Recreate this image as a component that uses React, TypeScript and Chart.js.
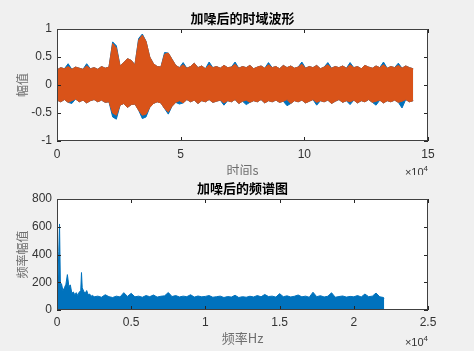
import React, { useEffect, useRef } from "react";
import { Chart, registerables } from "chart.js";
Chart.register(...registerables);

const BLUE = "#0072BD";
const ORANGE = "#D95319";

const timeTitle = "加噪后的时域波形";
const timeXLabel = "时间s";
const timeYLabel = "幅值";
const freqTitle = "加噪后的频谱图";
const freqXLabel = "频率Hz";
const freqYLabel = "频率幅值";

// time-domain envelopes (sample index)
const timeX = [
  0, 1500, 3000, 4500, 6000, 7500, 9000, 10500, 12000, 13500, 15000, 16500, 18000, 19500, 21000, 22500,
  24000, 25500, 27000, 28500, 30000, 31500, 33000, 34500, 36000, 37500, 39000, 40500, 42000, 43500, 45000,
  46500, 48000, 49500, 51000, 52500, 54000, 55500, 57000, 58500, 60000, 61500, 63000, 64500, 66000, 67500,
  69000, 70500, 72000, 73500, 75000, 76500, 78000, 79500, 81000, 82500, 84000, 85500, 87000, 88500, 90000,
  91500, 93000, 94500, 96000, 97500, 99000, 100500, 102000, 103500, 105000, 106500, 108000, 109500, 111000,
  112500, 114000, 115500, 117000, 118500, 120000, 121500, 123000, 124500, 126000, 127500, 129000, 130500,
  132000, 133500, 135000, 136500, 138000, 139500, 141000, 142500, 144000,
];
const orangeUpper = [
  0.27, 0.31, 0.29, 0.33, 0.28, 0.32, 0.3, 0.28, 0.34, 0.29, 0.31, 0.28, 0.33, 0.3, 0.32, 0.74,
  0.66, 0.34, 0.4, 0.47, 0.44, 0.36, 0.8, 0.89, 0.78, 0.5, 0.38, 0.33, 0.32, 0.55, 0.57,
  0.46, 0.35, 0.31, 0.36, 0.3, 0.33, 0.39, 0.31, 0.34, 0.29, 0.36, 0.31, 0.33, 0.3, 0.35,
  0.31, 0.32, 0.37, 0.3, 0.33, 0.31, 0.35, 0.29, 0.32, 0.34, 0.3, 0.36, 0.31, 0.33, 0.29,
  0.35, 0.31, 0.34, 0.3, 0.32, 0.37, 0.3, 0.33, 0.31, 0.35, 0.29, 0.32, 0.36, 0.3,
  0.33, 0.31, 0.34, 0.3, 0.36, 0.31, 0.33, 0.29, 0.35, 0.32, 0.3, 0.34, 0.31,
  0.36, 0.3, 0.33, 0.31, 0.35, 0.3, 0.34, 0.31, 0.29,
];
const orangeLower = [
  -0.27, -0.3, -0.26, -0.31, -0.28, -0.25, -0.3, -0.27, -0.32, -0.28, -0.26, -0.3, -0.27, -0.31, -0.3, -0.5,
  -0.54, -0.36, -0.33, -0.4, -0.35, -0.34, -0.45, -0.54, -0.52, -0.4, -0.33, -0.3, -0.32, -0.42, -0.48,
  -0.38, -0.31, -0.28, -0.32, -0.26, -0.3, -0.27, -0.33, -0.28, -0.3, -0.26, -0.31, -0.29, -0.27, -0.32,
  -0.28, -0.3, -0.26, -0.33, -0.29, -0.27, -0.31, -0.28, -0.3, -0.26, -0.32, -0.28, -0.3, -0.27, -0.31,
  -0.29, -0.26, -0.33, -0.28, -0.3, -0.27, -0.32, -0.29, -0.26, -0.31, -0.28, -0.3, -0.27, -0.33,
  -0.29, -0.26, -0.31, -0.28, -0.3, -0.27, -0.32, -0.28, -0.3, -0.26, -0.31, -0.29, -0.27,
  -0.32, -0.28, -0.3, -0.27, -0.31, -0.29, -0.26, -0.3, -0.28,
];
const blueUpper = [
  0.27, 0.31, 0.29, 0.38, 0.28, 0.32, 0.3, 0.28, 0.38, 0.29, 0.31, 0.28, 0.33, 0.3, 0.32, 0.77,
  0.7, 0.34, 0.4, 0.47, 0.44, 0.36, 0.83, 0.91, 0.78, 0.5, 0.38, 0.33, 0.32, 0.58, 0.57,
  0.46, 0.35, 0.31, 0.4, 0.3, 0.33, 0.39, 0.31, 0.34, 0.29, 0.41, 0.31, 0.33, 0.3, 0.35,
  0.31, 0.32, 0.41, 0.3, 0.33, 0.31, 0.35, 0.29, 0.32, 0.34, 0.3, 0.4, 0.31, 0.33, 0.29,
  0.35, 0.31, 0.34, 0.3, 0.32, 0.41, 0.3, 0.33, 0.31, 0.35, 0.29, 0.32, 0.4, 0.3,
  0.33, 0.31, 0.34, 0.3, 0.4, 0.31, 0.33, 0.29, 0.35, 0.32, 0.3, 0.34, 0.31,
  0.41, 0.3, 0.33, 0.31, 0.39, 0.3, 0.34, 0.31, 0.29,
];
const blueLower = [
  -0.27, -0.3, -0.26, -0.31, -0.33, -0.25, -0.3, -0.27, -0.32, -0.28, -0.26, -0.3, -0.27, -0.31, -0.3, -0.57,
  -0.61, -0.36, -0.33, -0.4, -0.35, -0.34, -0.45, -0.6, -0.57, -0.4, -0.33, -0.3, -0.32, -0.42, -0.52,
  -0.38, -0.31, -0.34, -0.32, -0.26, -0.3, -0.27, -0.33, -0.28, -0.3, -0.26, -0.31, -0.29, -0.27, -0.36,
  -0.28, -0.3, -0.26, -0.33, -0.29, -0.35, -0.31, -0.28, -0.3, -0.26, -0.32, -0.28, -0.3, -0.27, -0.31,
  -0.29, -0.37, -0.33, -0.28, -0.3, -0.27, -0.32, -0.29, -0.26, -0.36, -0.28, -0.3, -0.27, -0.33,
  -0.29, -0.26, -0.31, -0.28, -0.35, -0.27, -0.32, -0.28, -0.3, -0.26, -0.31, -0.36, -0.27,
  -0.32, -0.28, -0.3, -0.27, -0.31, -0.41, -0.26, -0.3, -0.28,
];

// spectrum (Hz)
const freqX = [
  0, 60, 120, 170, 230, 300, 400, 500, 600, 700, 800, 900, 1000, 1100, 1200, 1300, 1400, 1500, 1600,
  1650, 1700, 1800, 1900, 2000, 2100, 2200, 2300, 2400,
  2500, 2750, 3000, 3250, 3500, 3750, 4000, 4250, 4500, 4750, 5000, 5250, 5500, 5750, 6000, 6250,
  6500, 6750, 7000, 7250, 7500, 7750, 8000, 8250, 8500, 8750, 9000, 9250, 9500, 9750, 10000, 10250,
  10500, 10750, 11000, 11250, 11500, 11750, 12000, 12250, 12500, 12750, 13000, 13250, 13500, 13750,
  14000, 14250, 14500, 14750, 15000, 15250, 15500, 15750, 16000, 16250, 16500, 16750, 17000, 17250,
  17500, 17750, 18000, 18250, 18500, 18750, 19000, 19250, 19500, 19750, 20000, 20250, 20500, 20750,
  21000, 21250, 21500, 21750, 22000, 22050,
];
const freqAmp = [
  130, 210, 420, 620, 170, 190, 140, 160, 185, 255, 170, 180, 120, 130, 110, 125, 105, 130, 140,
  270, 160, 135, 120, 140, 110, 115, 100, 105,
  95, 100, 92, 110, 96, 90, 100, 94, 125, 98, 120, 95, 100, 92, 104, 96,
  108, 93, 99, 102, 126, 97, 104, 94, 100, 96, 110, 93, 101, 95, 98, 104,
  92, 96, 100, 90, 97, 93, 106, 90, 96, 92, 99, 94, 104, 95,
  112, 97, 100, 93, 118, 96, 102, 94, 99, 108, 95, 100, 92, 128,
  96, 103, 94, 99, 124, 92, 97, 101, 93, 98, 95, 104, 94, 115,
  96, 100, 122, 95, 90, 85,
];

const timeTicks = { min: 0, max: 150000, step: 50000 };
const ampTicks = { min: -1, max: 1, step: 0.5 };
const freqTicks = { min: 0, max: 25000, step: 5000 };
const specTicks = { min: 0, max: 800, step: 200 };

const toXY = (xs: number[], ys: number[]) => xs.map((x, i) => ({ x, y: ys[i] }));

const TICK_FONT = { family: "'Liberation Sans', Arial, sans-serif", size: 12 };
const TICK_COLOR = "#333333";

type Deco = {
  title: string;
  titleY: number;
  xLabel: string;
  xLabelY: number;
  yLabel: string;
  yLabelX: number;
  expBaseline: number;
};

function makeDecor(d: Deco) {
  return {
    id: "decor",
    beforeDraw(chart: any) {
      const { ctx, chartArea: a } = chart;
      ctx.save();
      ctx.fillStyle = "#ffffff";
      ctx.fillRect(a.left, a.top, a.right - a.left, a.bottom - a.top);
      ctx.restore();
    },
    afterDatasetsDraw(chart: any) {
      const { ctx, chartArea: a, scales } = chart;
      ctx.save();
      ctx.strokeStyle = "#262626";
      ctx.lineWidth = 1;
      ctx.beginPath();
      const tl = 4;
      for (const t of scales.x.ticks) {
        const px = Math.round(scales.x.getPixelForValue(t.value)) + 0.5;
        ctx.moveTo(px, a.bottom);
        ctx.lineTo(px, a.bottom - tl);
        ctx.moveTo(px, a.top);
        ctx.lineTo(px, a.top + tl);
      }
      for (const t of scales.y.ticks) {
        const py = Math.round(scales.y.getPixelForValue(t.value)) + 0.5;
        ctx.moveTo(a.left, py);
        ctx.lineTo(a.left + tl, py);
        ctx.moveTo(a.right, py);
        ctx.lineTo(a.right - tl, py);
      }
      ctx.stroke();
      ctx.strokeStyle = "#404040";
      ctx.strokeRect(a.left + 0.5, a.top + 0.5, a.right - a.left - 1, a.bottom - a.top - 1);
      ctx.restore();
    },
    afterDraw(chart: any) {
      const { ctx, chartArea: a } = chart;
      const cx = (a.left + a.right) / 2;
      ctx.save();
      ctx.textAlign = "center";
      ctx.textBaseline = "middle";
      ctx.fillStyle = "#000000";
      ctx.font = "bold 13px 'Noto Sans CJK SC', sans-serif";
      ctx.fillText(d.title, cx, d.titleY);
      ctx.fillStyle = "#6e6e6e";
      ctx.font = "13px 'Noto Sans CJK SC', 'Liberation Sans', sans-serif";
      ctx.fillText(d.xLabel, cx, d.xLabelY);
      ctx.save();
      ctx.translate(d.yLabelX, (a.top + a.bottom) / 2);
      ctx.rotate(-Math.PI / 2);
      ctx.font = "12px 'Noto Sans CJK SC', sans-serif";
      ctx.fillText(d.yLabel, 0, 0);
      ctx.restore();
      ctx.textAlign = "left";
      ctx.textBaseline = "alphabetic";
      ctx.fillStyle = TICK_COLOR;
      ctx.font = "8px 'Liberation Sans', Arial, sans-serif";
      const w2 = ctx.measureText("4").width;
      ctx.font = "11px 'Liberation Sans', Arial, sans-serif";
      const base = "×10";
      const w1 = ctx.measureText(base).width;
      const x0 = a.right - w1 - w2;
      ctx.fillText(base, x0, d.expBaseline);
      ctx.font = "8px 'Liberation Sans', Arial, sans-serif";
      ctx.fillText("4", x0 + w1, d.expBaseline - 5);
      ctx.restore();
    },
  };
}

function axisX(t: { min: number; max: number; step: number }, height: number, padding: number) {
  return {
    type: "linear",
    min: t.min,
    max: t.max,
    grid: { display: false, drawTicks: false },
    border: { display: false },
    ticks: {
      stepSize: t.step,
      autoSkip: false,
      maxRotation: 0,
      padding,
      color: TICK_COLOR,
      font: TICK_FONT,
      callback: (v: any) => String(Number(v) / 1e4),
    },
    afterFit: (s: any) => {
      s.height = height;
    },
  };
}

function axisY(t: { min: number; max: number; step: number }) {
  return {
    type: "linear",
    min: t.min,
    max: t.max,
    grid: { display: false, drawTicks: false },
    border: { display: false },
    ticks: {
      stepSize: t.step,
      autoSkip: false,
      padding: 5,
      color: TICK_COLOR,
      font: TICK_FONT,
      callback: (v: any) => String(Number(v)),
    },
    afterFit: (s: any) => {
      s.width = 57;
    },
  };
}

const baseDs = { pointRadius: 0, borderWidth: 1, tension: 0 };

function TimeChart() {
  const ref = useRef<HTMLCanvasElement>(null);
  useEffect(() => {
    const chart = new Chart(ref.current as HTMLCanvasElement, {
      type: "line",
      data: {
        datasets: [
          { ...baseDs, data: toXY(timeX, orangeUpper), borderColor: ORANGE, backgroundColor: ORANGE, fill: "+1" },
          { ...baseDs, data: toXY(timeX, orangeLower), borderColor: ORANGE, fill: false },
          { ...baseDs, data: toXY(timeX, blueUpper), borderColor: BLUE, backgroundColor: BLUE, fill: "+1" },
          { ...baseDs, data: toXY(timeX, blueLower), borderColor: BLUE, fill: false },
        ],
      } as any,
      options: {
        responsive: false,
        animation: false,
        events: [],
        layout: { padding: { top: 29, right: 46, left: 0, bottom: 0 } },
        plugins: { legend: { display: false }, tooltip: { enabled: false }, title: { display: false } },
        scales: { x: axisX(timeTicks, 34, 6), y: axisY(ampTicks) } as any,
      },
      plugins: [
        makeDecor({
          title: timeTitle,
          titleY: 18,
          xLabel: timeXLabel,
          xLabelY: 170,
          yLabel: timeYLabel,
          yLabelX: 22,
          expBaseline: 176,
        }),
      ],
    });
    return () => chart.destroy();
  }, []);
  return (
    <canvas
      ref={ref}
      width={474}
      height={175}
      style={{ position: "absolute", left: 0, top: 0, width: 474, height: 175 }}
    />
  );
}

function FreqChart() {
  const ref = useRef<HTMLCanvasElement>(null);
  useEffect(() => {
    const chart = new Chart(ref.current as HTMLCanvasElement, {
      type: "line",
      data: {
        datasets: [
          { ...baseDs, data: toXY(freqX, freqAmp), borderColor: BLUE, backgroundColor: BLUE, fill: "origin" },
        ],
      } as any,
      options: {
        responsive: false,
        animation: false,
        events: [],
        layout: { padding: { top: 24, right: 46, left: 0, bottom: 0 } },
        plugins: { legend: { display: false }, tooltip: { enabled: false }, title: { display: false } },
        scales: { x: axisX(freqTicks, 41, 5), y: axisY(specTicks) } as any,
      },
      plugins: [
        makeDecor({
          title: freqTitle,
          titleY: 13,
          xLabel: freqXLabel,
          xLabelY: 163,
          yLabel: freqYLabel,
          yLabelX: 22,
          expBaseline: 171,
        }),
      ],
    });
    return () => chart.destroy();
  }, []);
  return (
    <canvas
      ref={ref}
      width={474}
      height={176}
      style={{ position: "absolute", left: 0, top: 175, width: 474, height: 176 }}
    />
  );
}

export default function App() {
  return (
    <div
      style={{
        position: "absolute",
        left: 0,
        top: 0,
        width: 474,
        height: 351,
        background: "#f0f0f0",
        overflow: "hidden",
      }}
    >
      <TimeChart />
      <FreqChart />
    </div>
  );
}
